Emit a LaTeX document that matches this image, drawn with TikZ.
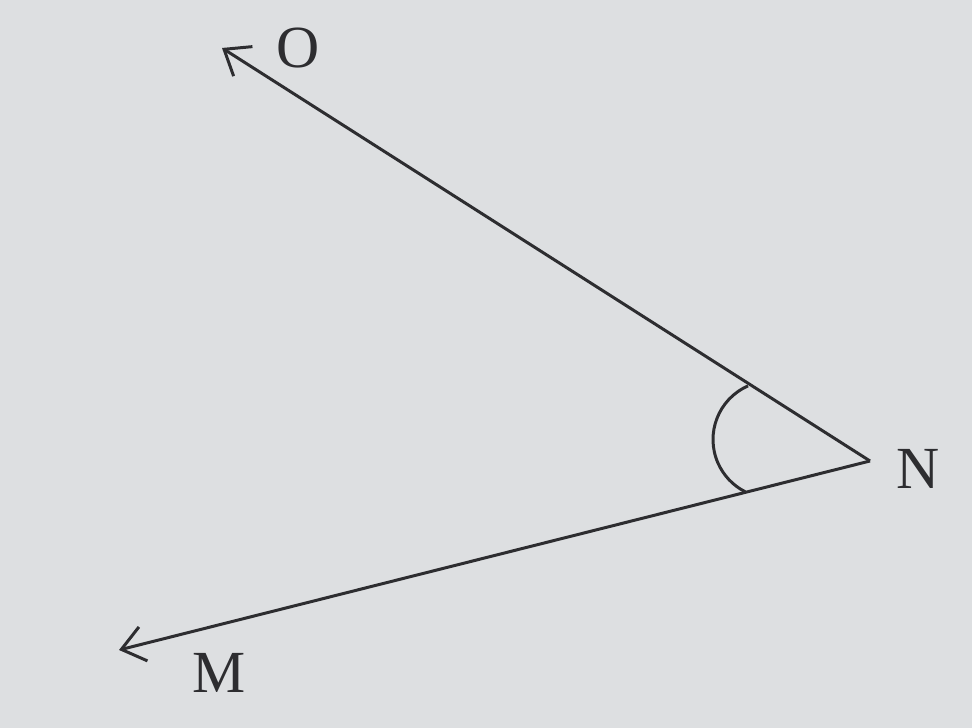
\documentclass[tikz,border=0pt]{standalone}
\usepackage{fontspec}
\setmainfont{Liberation Serif}
\usetikzlibrary{arrows.meta}
\definecolor{paper}{RGB}{221,223,225}
\definecolor{ink}{RGB}{45,45,48}
\tikzset{
  ray/.style={draw=ink, line width=1.7pt, -{Straight Barb[length=0.45cm, width=0.7cm, line width=1.7pt]}},
  lab/.style={text=ink, font=\fontsize{34}{36}\selectfont, inner sep=0pt}
}
\begin{document}
\begin{tikzpicture}
\fill[paper] (0,0) rectangle (19.44,14.56);
\useasboundingbox (0,0) rectangle (19.44,14.56);
% vertex and ray ends
\coordinate (N) at (17.40,5.34);
\coordinate (O) at (4.44,13.60);
\coordinate (M) at (2.38,1.56);
\draw[ray] (N) -- (O);
\draw[ray] (N) -- (M);
% angle mark
\coordinate (arcc) at (15.43,5.77);
\draw[ink, line width=1.7pt] ([shift={(113.7:1.17)}]arcc) arc (113.7:243.2:1.17);
% labels
\node[lab] (labO) at (5.96,13.60) {O};
\node[lab] (labN) at (18.36,5.18) {N};
\node[lab] (labM) at (4.38,1.10) {M};
\end{tikzpicture}
\end{document}
